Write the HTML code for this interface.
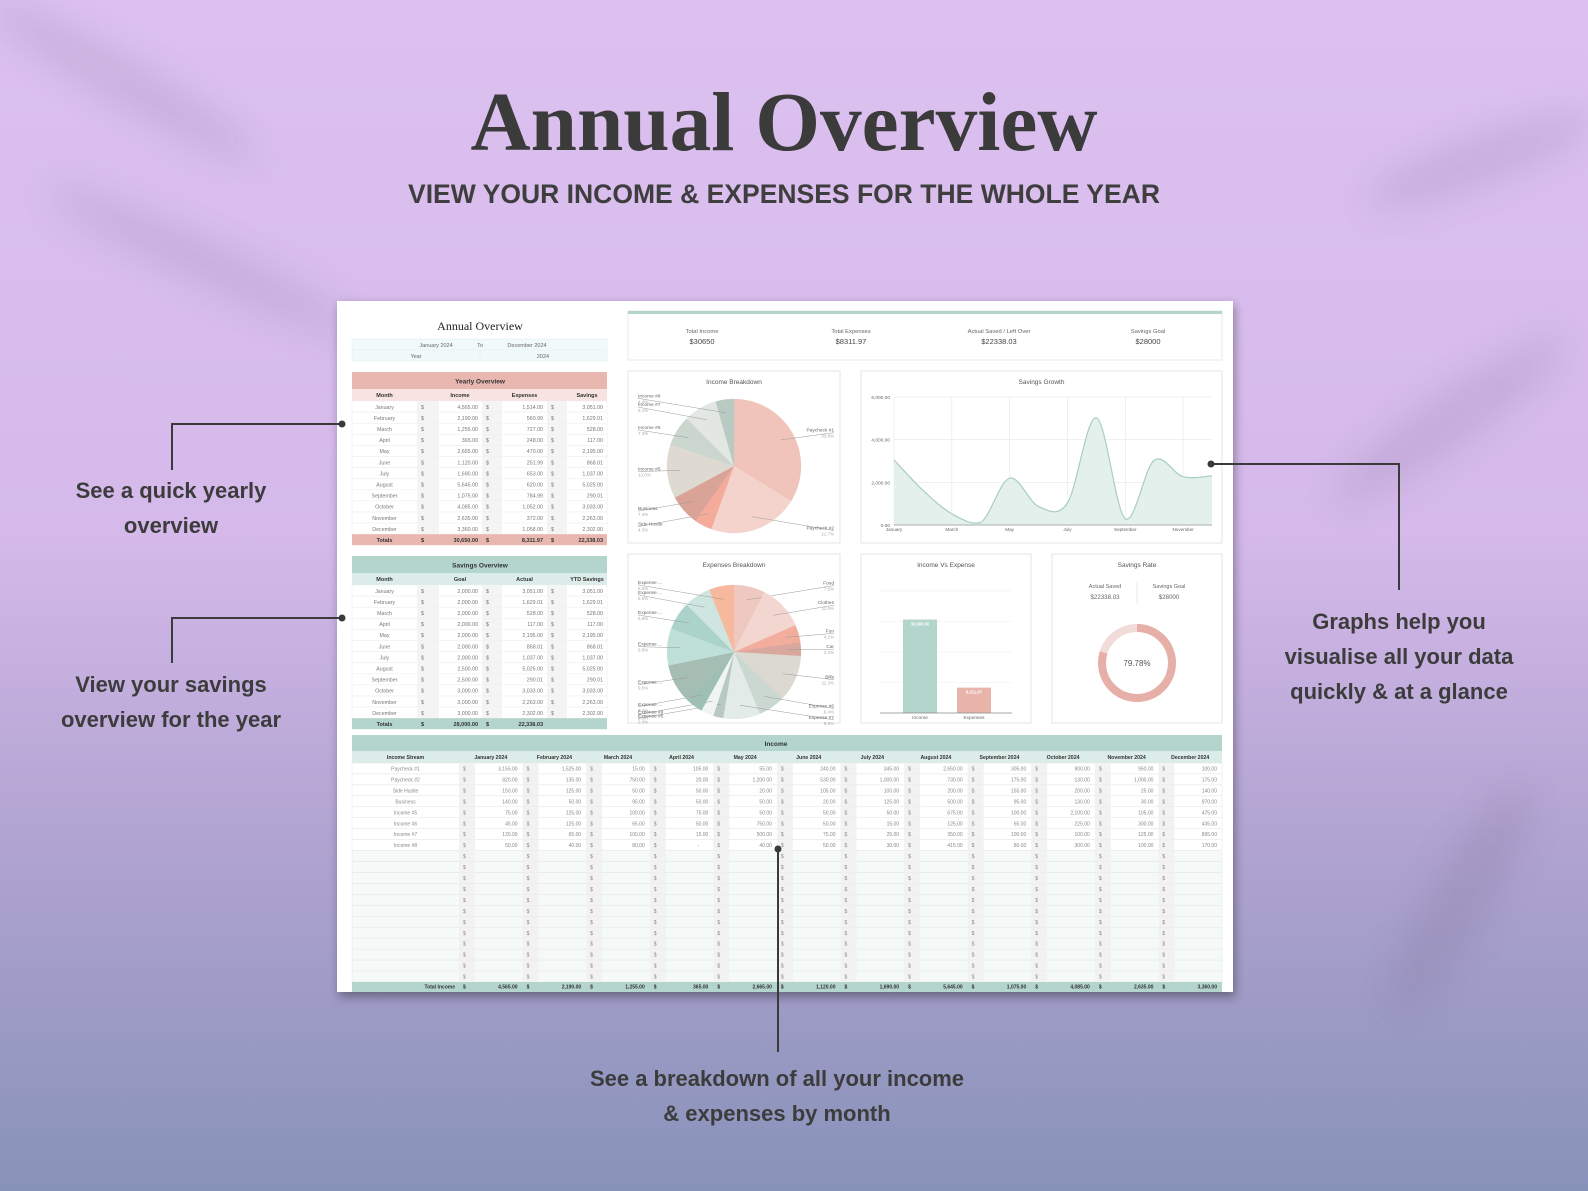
<!DOCTYPE html>
<html><head><meta charset="utf-8"><title>Annual Overview</title>
<style>
html,body{margin:0;padding:0;width:1588px;height:1191px;overflow:hidden;}
svg{display:block;font-family:"Liberation Sans",sans-serif;}
</style></head>
<body>
<svg id="page" xmlns="http://www.w3.org/2000/svg" width="1588" height="1191" viewBox="0 0 1588 1191">
<defs>
<linearGradient id="bg" x1="0" y1="0" x2="0" y2="1">
<stop offset="0" stop-color="#dcc1f0"/><stop offset="0.45" stop-color="#d4b9ea"/><stop offset="0.7" stop-color="#b2a4d2"/><stop offset="1" stop-color="#8792b9"/>
</linearGradient>
<filter id="blur"><feGaussianBlur stdDeviation="18"/></filter>
<filter id="sh" x="-5%" y="-5%" width="110%" height="110%"><feGaussianBlur stdDeviation="5"/></filter>
</defs>
<rect x="0" y="0" width="1588" height="1191" fill="url(#bg)"/>
<g filter="url(#blur)" opacity="0.16" fill="#6a5a80">
<ellipse cx="120" cy="80" rx="160" ry="22" transform="rotate(30 120 80)"/>
<ellipse cx="200" cy="260" rx="170" ry="20" transform="rotate(25 200 260)"/>
<ellipse cx="1480" cy="160" rx="120" ry="24" transform="rotate(-20 1480 160)"/>
<ellipse cx="1450" cy="420" rx="140" ry="26" transform="rotate(-35 1450 420)"/>
<ellipse cx="1460" cy="900" rx="130" ry="30" transform="rotate(-60 1460 900)"/>
</g>
<text x="784" y="150" text-anchor="middle" font-family="Liberation Serif, serif" font-weight="bold" font-size="84" fill="#3b3b3b" textLength="627" lengthAdjust="spacingAndGlyphs">Annual Overview</text>
<text x="784" y="203" text-anchor="middle" font-weight="bold" font-size="27" fill="#3e3e3e" textLength="752" lengthAdjust="spacingAndGlyphs">VIEW YOUR INCOME &amp; EXPENSES FOR THE WHOLE YEAR</text>
<rect x="339" y="305" width="896" height="692" fill="#000" opacity="0.35" filter="url(#sh)"/>
<rect x="337" y="301" width="896" height="691" fill="#ffffff"/>
<g id="content"></g>
</svg>
<script>
const months=['January','February','March','April','May','June','July','August','September','October','November','December'];
const monthHeaders=['January 2024','February 2024','March 2024','April 2024','May 2024','June 2024','July 2024','August 2024','September 2024','October 2024','November 2024','December 2024'];
const incomeStreams=['Paycheck #1','Paycheck #2','Side Hustle','Business','Income #5','Income #6','Income #7','Income #8'];
const paycheck1=[3155,1525,15,105,55,240,345,2650,305,900,950,100];
const paycheck2=[820,135,750,20,1200,530,1000,730,175,130,1000,175];
const sideHustle=[150,125,50,50,20,105,100,200,155,200,25,140];
const business=[140,50,95,50,50,20,125,500,95,130,30,970];
const income5=[75,125,100,75,50,50,50,675,100,2100,105,475];
const income6=[45,125,65,50,750,50,15,125,65,225,300,435];
const income7=[130,65,100,15,500,75,25,350,100,100,125,895];
const income8=[50,40,80,0,40,50,30,415,80,300,100,170];
const monthlyExpenses=[1514,560.99,727,248,470,251.99,653,620,784.99,1052,372,1058];
const savingsGoal=[2000,2000,2000,2000,2000,2000,2000,2500,2500,3000,3000,3000];
const incomeBreakdownLabels=['Paycheck #1','Paycheck #2','Side Hustle','Business','Income #5','Income #6','Income #7','Income #8'];
const incomeBreakdownPct=[33.8,21.7,4.3,7.4,13.0,7.3,8.1,4.4];
const expenseLabels=['Food','Clothes','Fun','Car','Bills','Expense #6','Expense #7','Expense #5','Expense #9','Expense ...','Expense ...','Expense ...','Expense ...','Expense ...','Expense ...'];
const expensePct=[7.5,11.0,4.2,3.3,11.3,6.4,8.9,2.4,3.1,4.2,9.5,8.9,6.8,6.5,6.0];
const savingsTicks=[0,2000,4000,6000];
const barCategories=['Income','Expenses'];
const savingsRatePct=79.78;

const NS='http://www.w3.org/2000/svg';
const root=document.getElementById('content');
function mk(tag,a,p){const e=document.createElementNS(NS,tag);for(const k in a)e.setAttribute(k,a[k]);(p||root).appendChild(e);return e;}
function tx(s,x,y,size,a,p){const e=mk('text',Object.assign({x:x,y:y,'font-size':size,fill:'#666'},a||{}),p);e.textContent=s;return e;}
function fmt(v){return v.toLocaleString('en-US',{minimumFractionDigits:2,maximumFractionDigits:2});}
function grp(name){const g=mk('g',{});return g;}

const streams=[paycheck1,paycheck2,sideHustle,business,income5,income6,income7,income8];
const monthIncome=months.map((m,i)=>streams.reduce((s,a)=>s+a[i],0));
const monthSavings=monthIncome.map((v,i)=>v-monthlyExpenses[i]);
const totInc=monthIncome.reduce((a,b)=>a+b,0), totExp=monthlyExpenses.reduce((a,b)=>a+b,0), totSav=totInc-totExp;
const totGoal=savingsGoal.reduce((a,b)=>a+b,0);

let g=grp('sheet-title-block');
tx('Annual Overview',480,330,12,{'text-anchor':'middle',fill:'#222','font-family':'Liberation Serif, serif'},g);
mk('rect',{x:352,y:339,width:255,height:22,fill:'#f1faf9',stroke:'#dfeeee','stroke-width':0.6},g);
mk('line',{x1:352,y1:350,x2:607,y2:350,stroke:'#dfeeee','stroke-width':0.6},g);
mk('line',{x1:480,y1:350,x2:480,y2:361,stroke:'#dfeeee','stroke-width':0.6},g);
tx('January 2024',436,347,5.5,{'text-anchor':'middle'},g);
tx('To',480,347,5.5,{'text-anchor':'middle'},g);
tx('December 2024',527,347,5.5,{'text-anchor':'middle'},g);
tx('Year',416,358,5.5,{'text-anchor':'middle'},g);
tx('2024',543,358,5.5,{'text-anchor':'middle'},g);

function monthTable(name,title,top,hdrColor,subColor,cols,c1,c2,c3,totals){
  const t=grp(name);
  const X=[352,417,439,482,502,547,567,607];
  mk('rect',{x:352,y:top,width:255,height:17,fill:hdrColor},t);
  tx(title,480,top+11.5,6.5,{'text-anchor':'middle',fill:'#333','font-weight':'bold'},t);
  mk('rect',{x:352,y:top+17,width:255,height:12,fill:subColor},t);
  const hc=[384.5,460,524.5,587];
  cols.forEach((c,i)=>tx(c,hc[i],top+25,5.5,{'text-anchor':'middle',fill:'#333','font-weight':'bold'},t));
  const rh=11.1, r0=top+29;
  months.forEach((m,i)=>{
    const y=r0+i*rh;
    mk('rect',{x:352,y:y,width:255,height:rh,fill:'#fff',stroke:'#ececec','stroke-width':0.5},t);
    [1,3,5].forEach(k=>mk('rect',{x:X[k],y:y,width:X[k+1]-X[k],height:rh,fill:'#f4f4f4'},t));
    tx(m,384.5,y+7.8,5.3,{'text-anchor':'middle',fill:'#777'},t);
    [c1,c2,c3].forEach((arr,k)=>{
      tx('$',X[1+2*k]+4,y+7.8,5.3,{fill:'#777'},t);
      tx(fmt(arr[i]),X[3+2*k]-4,y+7.8,5.3,{'text-anchor':'end',fill:'#777'},t);
    });
  });
  const ty=r0+12*rh;
  mk('rect',{x:352,y:ty,width:255,height:11,fill:hdrColor},t);
  tx('Totals',384.5,ty+7.8,5.5,{'text-anchor':'middle',fill:'#333','font-weight':'bold'},t);
  totals.forEach((v,k)=>{ if(v===null)return;
    tx('$',X[1+2*k]+4,ty+7.8,5.5,{fill:'#333','font-weight':'bold'},t);
    tx(fmt(v),X[3+2*k]-4,ty+7.8,5.5,{'text-anchor':'end',fill:'#333','font-weight':'bold'},t);
  });
}
monthTable('yearly-overview-table','Yearly Overview',372,'#e8b8b0','#f7e4e1',['Month','Income','Expenses','Savings'],monthIncome,monthlyExpenses,monthSavings,[totInc,totExp,totSav]);
monthTable('savings-overview-table','Savings Overview',556,'#b3d5cc','#dcece8',['Month','Goal','Actual','YTD Savings'],savingsGoal,monthSavings,monthSavings,[totGoal,totSav,null]);

g=grp('summary-cards');
mk('rect',{x:628,y:311,width:594,height:49,fill:'#fff',stroke:'#e4e4e4','stroke-width':0.8},g);
mk('rect',{x:628,y:311,width:594,height:3,fill:'#b3d5cc'},g);
const sumL=['Total Income','Total Expenses','Actual Saved / Left Over','Savings Goal'];
const sumV=['$'+totInc,'$'+totExp.toFixed(2),'$'+totSav.toFixed(2),'$'+totGoal];
[702,851,999,1148].forEach((x,i)=>{tx(sumL[i],x,333,5.8,{'text-anchor':'middle'},g);tx(sumV[i],x,344,7.5,{'text-anchor':'middle',fill:'#444'},g);});

function box(name,x,y,w,h,title){const b=grp(name);mk('rect',{x:x,y:y,width:w,height:h,fill:'#fff',stroke:'#e0e0e0','stroke-width':0.8},b);tx(title,x+w/2,y+13,6.5,{'text-anchor':'middle',fill:'#555'},b);return b;}

function pie(g,cx,cy,r,pcts,labels,colors,bx0,bx1,name){
  const tot=pcts.reduce((a,b)=>a+b,0);let a0=0;
  pcts.forEach((p,i)=>{
    const a1=a0+p/tot*2*Math.PI;
    const x0=cx+r*Math.sin(a0),y0=cy-r*Math.cos(a0),x1=cx+r*Math.sin(a1),y1=cy-r*Math.cos(a1);
    const s=mk('path',{d:`M${cx},${cy}L${x0},${y0}A${r},${r} 0 ${a1-a0>Math.PI?1:0} 1 ${x1},${y1}Z`,fill:colors[i],stroke:colors[i],'stroke-width':0.3},g);
    
    
    const am=(a0+a1)/2, px=cx+r*0.8*Math.sin(am), py=cy-r*0.8*Math.cos(am);
    const right=Math.sin(am)>0.0; const lx=right?bx1-6:bx0+10;
    const ly=cy-r*1.02*Math.cos(am);
    mk('polyline',{points:`${px},${py} ${lx},${ly}`,fill:'none',stroke:'#999','stroke-width':0.5},g);
    tx(labels[i],lx,ly-1,4.8,{'text-anchor':right?'end':'start',fill:'#666'},g);
    tx(p.toFixed(1)+'%',lx,ly+5,4.5,{'text-anchor':right?'end':'start',fill:'#aaa'},g);
    a0=a1;
  });
}
g=box('income-breakdown-chart',628,371,212,172,'Income Breakdown');
pie(g,734,466,67,incomeBreakdownPct,incomeBreakdownLabels,['#f0c3bb','#f4d3cd','#f5ab9a','#d9a398','#dedad2','#cbd6cf','#e2e7e3','#b9cac2'],628,840,'income-pie');
g=box('expenses-breakdown-chart',628,554,212,169,'Expenses Breakdown');
pie(g,734,652,67,expensePct,expenseLabels,['#f0c8c2','#f4d6d0','#f3ad9c','#d9a79e','#dcd9d1','#cbd8d1','#e2ebe7','#b8c9c1','#f0f5f3','#9fbfb5','#a6bdb4','#bfe0d8','#acd3c9','#cfe5df','#f6b99e'],628,840,'expense-pie');

g=box('savings-growth-chart',861,371,361,172,'Savings Growth');
const sgL=894,sgR=1212,sgT=397,sgB=525;
const sx=i=>sgL+i*(sgR-sgL)/11, sy=v=>sgB-v/6000*(sgB-sgT);
savingsTicks.forEach(t=>{mk('line',{x1:sgL,y1:sy(t),x2:sgR,y2:sy(t),stroke:'#e6e6e6','stroke-width':0.6},g);tx(fmt(t),sgL-4,sy(t)+2,4.8,{'text-anchor':'end'},g);});
months.forEach((m,i)=>{if(i%2===0){mk('line',{x1:sx(i),y1:sgT,x2:sx(i),y2:sgB,stroke:'#e6e6e6','stroke-width':0.6},g);tx(m,sx(i),sgB+6,4.6,{'text-anchor':'middle'},g);}});
const pts=monthSavings.map((v,i)=>[sx(i),sy(v)]);
let d=`M${pts[0][0]},${pts[0][1]}`;
for(let i=0;i<pts.length-1;i++){const p0=pts[Math.max(0,i-1)],p1=pts[i],p2=pts[i+1],p3=pts[Math.min(pts.length-1,i+2)];
 const c1=[p1[0]+(p2[0]-p0[0])/6,p1[1]+(p2[1]-p0[1])/6],c2=[p2[0]-(p3[0]-p1[0])/6,p2[1]-(p3[1]-p1[1])/6];
 d+=`C${c1[0]},${Math.min(c1[1],sgB)} ${c2[0]},${Math.min(c2[1],sgB)} ${p2[0]},${p2[1]}`;}
const area=mk('path',{d:d+`L${sgR},${sgB}L${sgL},${sgB}Z`,fill:'#e3f0ec'},g);


const line=mk('path',{d:d,fill:'none',stroke:'#a9cdc4','stroke-width':1.2},g);


mk('line',{x1:sgL,y1:sgB,x2:sgR,y2:sgB,stroke:'#999','stroke-width':0.7},g);

g=box('income-vs-expense-chart',861,554,170,169,'Income Vs Expense');
const bB=713,bT=591,by=v=>bB-v/40000*(bB-bT);
[10000,20000,30000,40000].forEach(t=>mk('line',{x1:880,y1:by(t),x2:1012,y2:by(t),stroke:'#eeeeee','stroke-width':0.6},g));
const barVals=[totInc,totExp],barCols=['#b3d5cc','#e8b4aa'];
barCategories.forEach((c,i)=>{const x=903+i*54;
 const b=mk('rect',{x:x,y:by(barVals[i]),width:34,height:bB-by(barVals[i]),fill:barCols[i]},g);
 
 
 tx(fmt(barVals[i]),x+17,by(barVals[i])+6,4.2,{'text-anchor':'middle',fill:'#fff','font-weight':'bold'},g);
 tx(c,x+17,bB+6,4.8,{'text-anchor':'middle'},g);});
mk('line',{x1:880,y1:bB,x2:1012,y2:bB,stroke:'#888','stroke-width':0.7},g);

g=box('savings-rate-chart',1052,554,170,169,'Savings Rate');
tx('Actual Saved',1105,588,5.5,{'text-anchor':'middle'},g);tx('$'+totSav.toFixed(2),1105,599,6.2,{'text-anchor':'middle'},g);
tx('Savings Goal',1169,588,5.5,{'text-anchor':'middle'},g);tx('$'+totGoal,1169,599,6.2,{'text-anchor':'middle'},g);
mk('line',{x1:1137,y1:582,x2:1137,y2:604,stroke:'#ddd','stroke-width':0.6},g);
const dcx=1137,dcy=663,dr=35,circ=2*Math.PI*dr;
mk('circle',{cx:dcx,cy:dcy,r:dr,fill:'none',stroke:'#f1dcd9','stroke-width':8},g);
const arc=mk('circle',{cx:dcx,cy:dcy,r:dr,fill:'none',stroke:'#e6b0a8','stroke-width':8,'stroke-dasharray':`${circ*savingsRatePct/100} ${circ}`,transform:`rotate(-90 ${dcx} ${dcy})`},g);


tx(savingsRatePct.toFixed(2)+'%',dcx,dcy+3,8,{'text-anchor':'middle',fill:'#555'},g);

g=grp('income-table');
const iL=352,iR=1222,nameW=107,cw=(iR-iL-nameW)/12;
mk('rect',{x:iL,y:735,width:iR-iL,height:16,fill:'#b3d5cc'},g);
tx('Income',776,746,6.5,{'text-anchor':'middle',fill:'#333','font-weight':'bold'},g);
mk('rect',{x:iL,y:751,width:iR-iL,height:12,fill:'#dcece8'},g);
tx('Income Stream',iL+nameW/2,759,5.2,{'text-anchor':'middle',fill:'#333','font-weight':'bold'},g);
monthHeaders.forEach((m,j)=>tx(m,iL+nameW+j*cw+cw/2,759,5.2,{'text-anchor':'middle',fill:'#333','font-weight':'bold'},g));
const irh=10.95;
for(let r=0;r<20;r++){const y=763+r*irh;
 mk('rect',{x:iL,y:y,width:iR-iL,height:irh,fill:r<8?'#ffffff':'#f5faf9',stroke:'#e4e4e4','stroke-width':0.5},g);
 if(r<8)tx(incomeStreams[r],iL+nameW/2,y+7.5,5,{'text-anchor':'middle',fill:'#888'},g);
 for(let j=0;j<12;j++){const x=iL+nameW+j*cw;
  mk('rect',{x:x,y:y,width:16,height:irh,fill:'#f2f2f2'},g);
  tx('$',x+4,y+7.5,5,{fill:'#888'},g);
  if(r<8){const v=streams[r][j];
   if(v)tx(fmt(v),x+cw-5,y+7.5,5,{'text-anchor':'end',fill:'#888'},g);
   else tx('-',x+cw-15,y+7.5,5,{'text-anchor':'middle',fill:'#888'},g);}
 }}
const tY=763+20*irh;
mk('rect',{x:iL,y:tY,width:iR-iL,height:992-tY,fill:'#b3d5cc'},g);
tx('Total Income',iL+nameW-4,tY+6.5,5,{'text-anchor':'end',fill:'#333','font-weight':'bold'},g);
monthIncome.forEach((v,j)=>{const x=iL+nameW+j*cw;tx('$',x+4,tY+6.5,5,{fill:'#333','font-weight':'bold'},g);tx(fmt(v),x+cw-5,tY+6.5,5,{'text-anchor':'end',fill:'#333','font-weight':'bold'},g);});

function ann(name,lines,cx,y0,path,dot){const a=grp(name);
 lines.forEach((l,i)=>tx(l,cx,y0+i*35,22,{'text-anchor':'middle',fill:'#3c3c3c','font-weight':'bold'},a));
 mk('polyline',{points:path,fill:'none',stroke:'#3a3a3a','stroke-width':2},a);
 mk('circle',{cx:dot[0],cy:dot[1],r:3.5,fill:'#3a3a3a'},a);}
ann('annotation-yearly',['See a quick yearly','overview'],171,498,'172,470 172,424 342,424',[342,424]);
ann('annotation-savings',['View your savings','overview for the year'],171,692,'172,663 172,618 342,618',[342,618]);
ann('annotation-graphs',['Graphs help you','visualise all your data','quickly & at a glance'],1399,629,'1399,590 1399,464 1211,464',[1211,464]);
ann('annotation-breakdown',['See a breakdown of all your income','& expenses by month'],777,1086,'778,1052 778,849',[778,849]);
</script>
</body></html>
